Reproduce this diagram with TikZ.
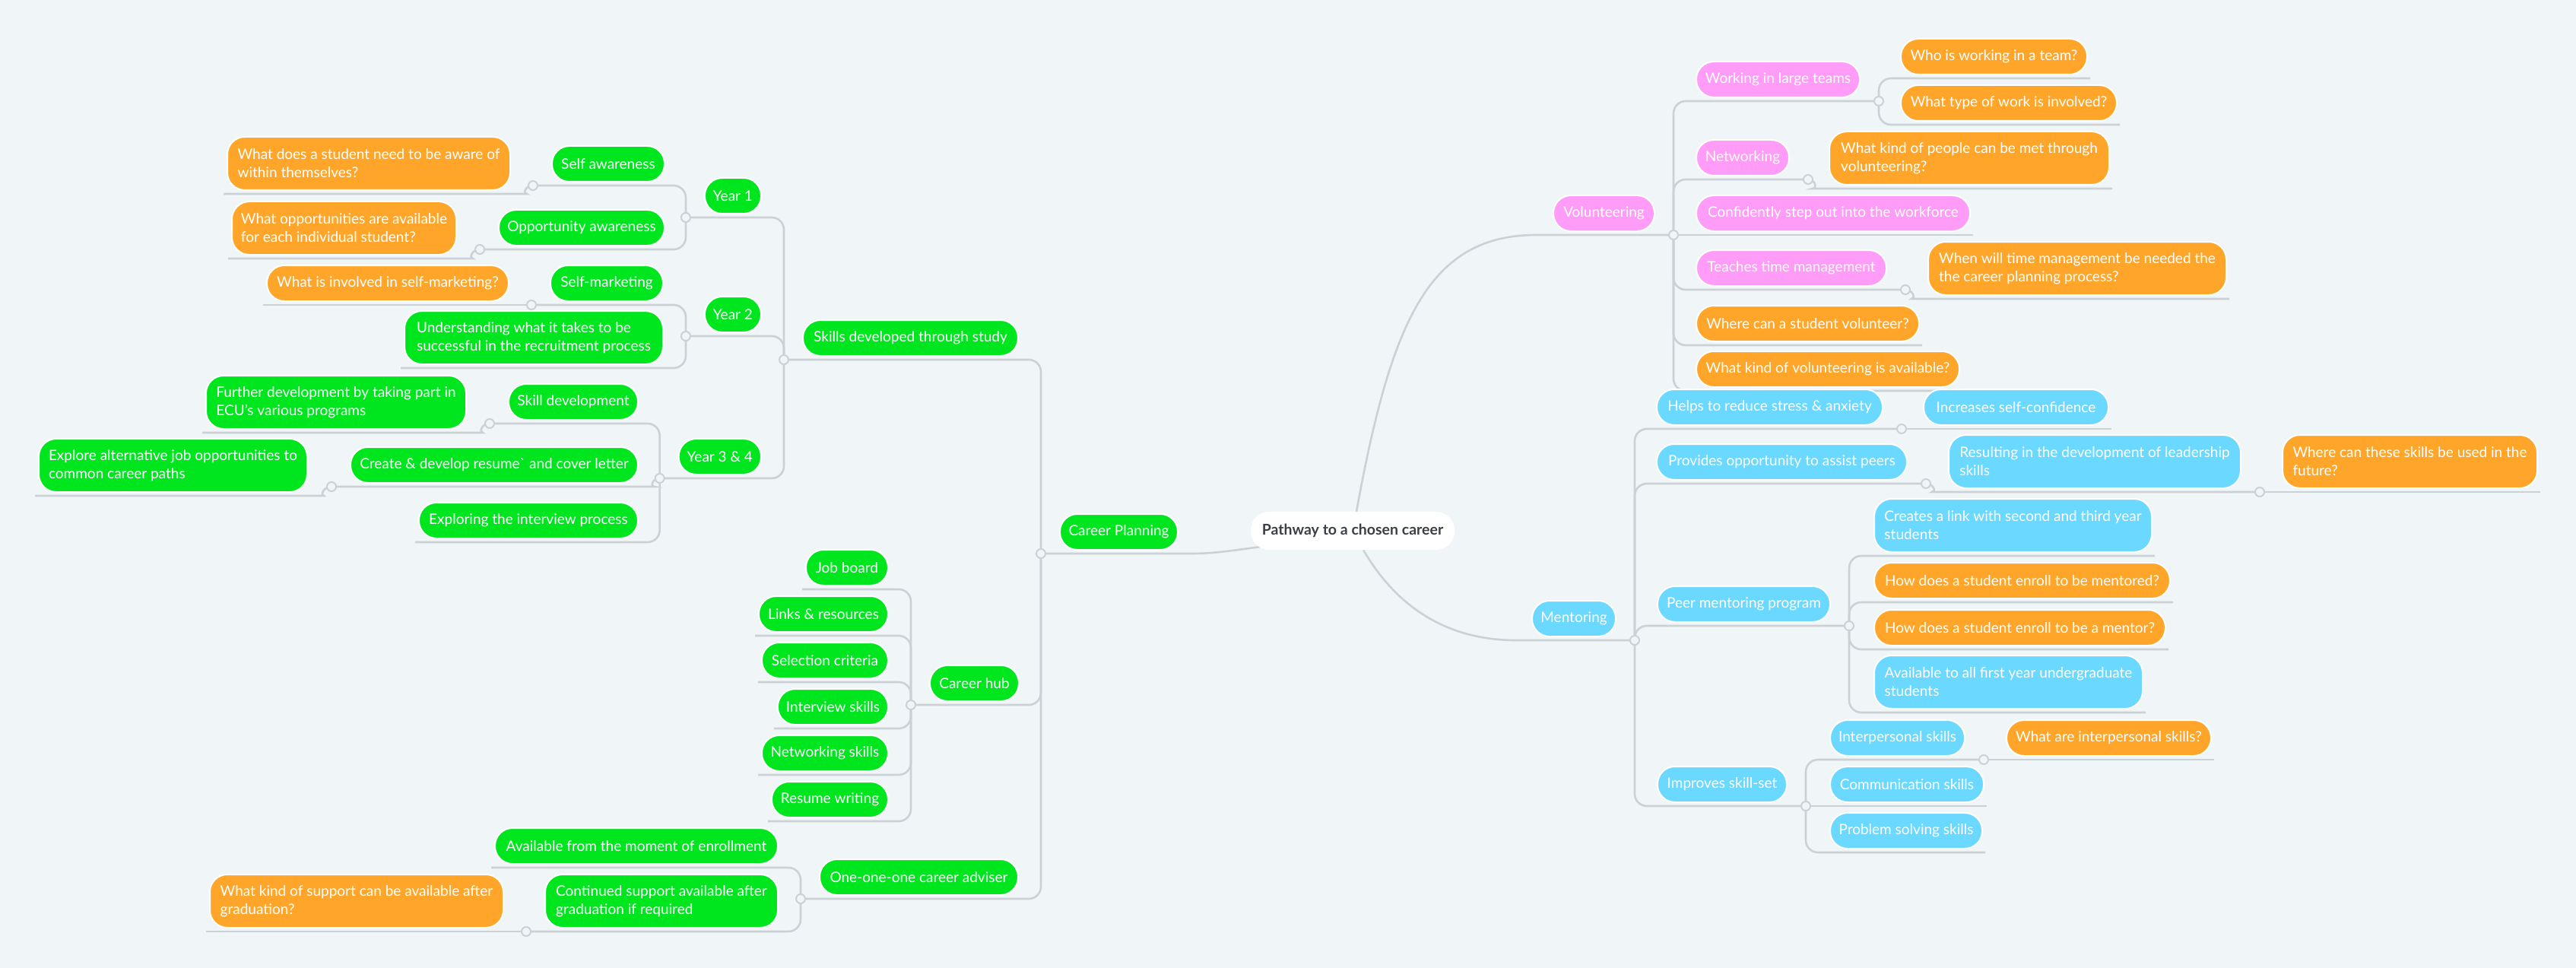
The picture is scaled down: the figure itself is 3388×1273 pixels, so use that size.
\documentclass[tikz,border=0pt]{standalone}
\usepackage{fontspec}
\setmainfont{Lato}
\usepackage{tikz}
\usetikzlibrary{calc,backgrounds}

\definecolor{mmbg}{HTML}{F0F5F8}
\definecolor{mmline}{HTML}{CCD1D5}
\definecolor{mmgreen}{HTML}{00E61E}
\definecolor{mmorange}{HTML}{FFA62A}
\definecolor{mmpink}{HTML}{FF9CF8}
\definecolor{mmblue}{HTML}{6BD8FF}
\definecolor{mmdark}{HTML}{3A3F45}

\tikzset{
  topic/.style={rounded corners=23, draw=white, line width=2, text=white, inner xsep=11, inner ysep=3,
    minimum height=47, align=left, font=\fontsize{19}{24}\selectfont},
  two/.style={minimum height=70},
  study/.style={topic, fill=mmgreen},
  query/.style={topic, fill=mmorange},
  volun/.style={topic, fill=mmpink},
  mentor/.style={topic, fill=mmblue},
  rootbox/.style={rounded corners=24, fill=white, text=mmdark, minimum width=268, minimum height=50,
    font=\fontsize{19.5}{24}\selectfont\bfseries},
  lside/.style={anchor=south east},
  rside/.style={anchor=south west},
  conn/.style={draw=mmline, line width=2.6, rounded corners=16},
  knob/.style={circle, draw=mmline, line width=2, fill=mmbg, inner sep=0, minimum size=12},
}

\begin{document}
\begin{tikzpicture}[x=1pt,y=-1pt]
% Nodes
\node[rootbox] (root) at (1779,698) {Pathway to a chosen career};
% left side
\node[study, lside, minimum width=155] (cp) at (1550,724) {Career Planning};
\node[study, lside, minimum width=283] (skills) at (1340,469) {Skills developed through study};
\node[study, lside, minimum width=117] (hub) at (1341,923) {Career hub};
\node[study, lside, minimum width=261] (adviser) at (1340,1178) {One-one-one career adviser};
\node[study, lside, minimum width=70] (y1) at (1002,282) {Year 1};
\node[study, lside, minimum width=73] (y2) at (1002,438) {Year 2};
\node[study, lside, minimum width=106] (y34) at (1002,625) {Year 3 \& 4};
\node[study, lside, minimum width=148] (selfaw) at (875,240) {Self awareness};
\node[study, lside, minimum width=218] (oppaw) at (875,324) {Opportunity awareness};
\node[query, two, lside, minimum width=372] (qselfaw) at (672,251) {What does a student need to be aware of\\within themselves?};
\node[query, two, lside, minimum width=295] (qoppaw) at (601,336) {What opportunities are available\\for each individual student?};
\node[study, lside, minimum width=148] (selfmk) at (873,397) {Self-marketing};
\node[query, lside, minimum width=318] (qselfmk) at (670,397) {What is involved in self-marketing?};
\node[study, two, lside, minimum width=340] (recruit) at (873,480) {Understanding what it takes to be\\successful in the recruitment process};
\node[study, lside, minimum width=170] (skilldev) at (840,553) {Skill development};
\node[study, two, lside, minimum width=342] (ecu) at (614,565) {Further development by taking part in\\ECU's various programs};
\node[study, lside, minimum width=378] (resume) at (840,636) {Create \& develop resume\textasciigrave{} and cover letter};
\node[study, two, lside, minimum width=353] (explore) at (405,648) {Explore alternative job opportunities to\\common career paths};
\node[study, lside, minimum width=288] (interview) at (840,709) {Exploring the interview process};
\node[study, lside, minimum width=108] (jobboard) at (1169,771) {Job board};
\node[study, lside, minimum width=170] (links) at (1169,832) {Links \& resources};
\node[study, lside, minimum width=166] (selection) at (1169,893) {Selection criteria};
\node[study, lside, minimum width=145] (intskills) at (1169,954) {Interview skills};
\node[study, lside, minimum width=166] (netskills) at (1169,1015) {Networking skills};
\node[study, lside, minimum width=153] (reswriting) at (1169,1076) {Resume writing};
\node[study, lside, minimum width=372] (enrol) at (1024,1137) {Available from the moment of enrollment};
\node[study, two, lside, minimum width=306] (continued) at (1024,1221) {Continued support available after\\graduation if required};
\node[query, two, lside, minimum width=386] (qsupport) at (663,1221) {What kind of support can be available after\\graduation?};
% right side
\node[volun, rside, minimum width=133] (vol) at (2042,305) {Volunteering};
\node[volun, rside, minimum width=215] (teams) at (2230,129) {Working in large teams};
\node[query, rside, minimum width=245] (qwho) at (2499,99) {Who is working in a team?};
\node[query, rside, minimum width=284] (qtype) at (2499,160) {What type of work is involved?};
\node[volun, rside, minimum width=122] (vnet) at (2230,232) {Networking};
\node[query, two, rside, minimum width=368] (qpeople) at (2405,244) {What kind of people can be met through\\volunteering?};
\node[volun, rside, minimum width=360] (confid) at (2230,305) {Confidently step out into the workforce};
\node[volun, rside, minimum width=250] (time) at (2230,377) {Teaches time management};
\node[query, two, rside, minimum width=392] (qtime) at (2535,389) {When will time management be needed the\\the career planning process?};
\node[query, rside, minimum width=293] (qwhere) at (2230,450) {Where can a student volunteer?};
\node[query, rside, minimum width=346] (qkind) at (2230,510) {What kind of volunteering is available?};
\node[mentor, rside, minimum width=110] (ment) at (2014,838) {Mentoring};
\node[mentor, rside, minimum width=297] (stress) at (2178,560) {Helps to reduce stress \& anxiety};
\node[mentor, rside, minimum width=243] (conf) at (2529,560) {Increases self-confidence};
\node[mentor, rside, minimum width=329] (peers) at (2178,632) {Provides opportunity to assist peers};
\node[mentor, two, rside, minimum width=384] (lead) at (2562,643) {Resulting in the development of leadership\\skills};
\node[query, two, rside, minimum width=335] (qfuture) at (3001,643) {Where can these skills be used in the\\future?};
\node[mentor, rside, minimum width=227] (peer) at (2179,819) {Peer mentoring program};
\node[mentor, two, rside, minimum width=365] (linkyr) at (2464,727) {Creates a link with second and third year\\students};
\node[query, rside, minimum width=389] (qmentored) at (2464,788) {How does a student enroll to be mentored?};
\node[query, rside, minimum width=383] (qmentor) at (2464,850) {How does a student enroll to be a mentor?};
\node[mentor, two, rside, minimum width=353] (firstyr) at (2464,933) {Available to all first year undergraduate\\students};
\node[mentor, rside, minimum width=170] (improve) at (2179,1056) {Improves skill-set};
\node[mentor, rside, minimum width=177] (inter) at (2406,995) {Interpersonal skills};
\node[query, rside, minimum width=269] (qinter) at (2638,995) {What are interpersonal skills?};
\node[mentor, rside, minimum width=202] (comm) at (2406,1056) {Communication skills};
\node[mentor, rside, minimum width=200] (problem) at (2406,1117) {Problem solving skills};
% Junctions
\foreach \n in {cp,skills,hub,adviser,y1,y2,y34,selfaw,oppaw,selfmk,skilldev,resume,continued}
  \coordinate (\n j) at ($(\n.south west)+(-24,4)$);
\foreach \n in {vol,teams,vnet,time,ment,stress,peers,lead,peer,improve,inter}
  \coordinate (\n j) at ($(\n.south east)+(24,4)$);
% Edges
\begin{scope}[on background layer]
\fill[mmbg] (0,0) rectangle (3388,1273);
\draw[conn] ($(root.south west)+(12,-4)$) .. controls +(-45,6) and +(45,0) .. ($(cp.south east)+(0,4)$) -- (cpj);
\draw[conn] ($(root.north)+(5,0)$) .. controls +(46,-253) and +(-157,0) .. ($(vol.south west)+(-5,4)$) -- (volj);
\draw[conn] ($(root.south)+(14,0)$) .. controls +(22,37) and +(-140,0) .. ($(ment.south west)+(-4,4)$) -- (mentj);
% career planning
\draw[conn] (cpj) |- (skillsj);
\draw[conn] (cpj) |- (hubj);
\draw[conn] (cpj) |- (adviserj);
\draw[conn] (skillsj) |- (y1j);
\draw[conn] (skillsj) |- (y2j);
\draw[conn] (skillsj) |- (y34j);
\draw[conn] (y1j) |- (selfawj);
\draw[conn] (y1j) |- (oppawj);
\draw[conn] (selfawj) to[out=180,in=0] ($(qselfaw.south east)+(5,4)$) -- ($(qselfaw.south west)+(-4,4)$);
\draw[conn] (oppawj) to[out=180,in=0] ($(qoppaw.south east)+(5,4)$) -- ($(qoppaw.south west)+(-4,4)$);
\draw[conn] (y2j) |- (selfmkj);
\draw[conn] (selfmkj) -- ($(qselfmk.south west)+(-4,4)$);
\draw[conn] (y2j) |- ($(recruit.south west)+(-4,4)$);
\draw[conn] (y34j) |- (skilldevj);
\draw[conn] (skilldevj) to[out=180,in=0] ($(ecu.south east)+(5,4)$) -- ($(ecu.south west)+(-4,4)$);
\draw[conn] (y34j) to[out=180,in=0] ($(resume.south east)+(5,4)$) -- (resumej);
\draw[conn] (resumej) to[out=180,in=0] ($(explore.south east)+(5,4)$) -- ($(explore.south west)+(-4,4)$);
\draw[conn] (y34j) |- ($(interview.south west)+(-4,4)$);
\draw[conn] (hubj) |- ($(jobboard.south west)+(-4,4)$);
\draw[conn] (hubj) |- ($(links.south west)+(-4,4)$);
\draw[conn] (hubj) |- ($(selection.south west)+(-4,4)$);
\draw[conn] (hubj) |- ($(intskills.south west)+(-4,4)$);
\draw[conn] (hubj) |- ($(netskills.south west)+(-4,4)$);
\draw[conn] (hubj) |- ($(reswriting.south west)+(-4,4)$);
\draw[conn] (adviserj) |- ($(enrol.south west)+(-4,4)$);
\draw[conn] (adviserj) |- (continuedj);
\draw[conn] (continuedj) -- ($(qsupport.south west)+(-4,4)$);
% volunteering
\draw[conn] (volj) |- (teamsj);
\draw[conn] (teamsj) |- ($(qwho.south east)+(3,4)$);
\draw[conn] (teamsj) |- ($(qtype.south east)+(3,4)$);
\draw[conn] (volj) |- (vnetj);
\draw[conn] (vnetj) to[out=0,in=180] ($(qpeople.south west)+(-5,4)$) -- ($(qpeople.south east)+(3,4)$);
\draw[conn] (volj) -- ($(confid.south east)+(3,4)$);
\draw[conn] (volj) |- (timej);
\draw[conn] (timej) to[out=0,in=180] ($(qtime.south west)+(-5,4)$) -- ($(qtime.south east)+(3,4)$);
\draw[conn] (volj) |- ($(qwhere.south east)+(3,4)$);
\draw[conn] (volj) |- ($(qkind.south east)+(3,4)$);
% mentoring
\draw[conn] (mentj) |- (stressj);
\draw[conn] (stressj) -- ($(conf.south east)+(3,4)$);
\draw[conn] (mentj) |- (peersj);
\draw[conn] (peersj) to[out=0,in=180] ($(lead.south west)+(-5,4)$) -- (leadj);
\draw[conn] (leadj) -- ($(qfuture.south east)+(3,4)$);
\draw[conn] (mentj) |- (peerj);
\draw[conn] (peerj) |- ($(linkyr.south east)+(3,4)$);
\draw[conn] (peerj) |- ($(qmentored.south east)+(3,4)$);
\draw[conn] (peerj) |- ($(qmentor.south east)+(3,4)$);
\draw[conn] (peerj) |- ($(firstyr.south east)+(3,4)$);
\draw[conn] (mentj) |- (improvej);
\draw[conn] (improvej) |- (interj);
\draw[conn] (interj) -- ($(qinter.south east)+(3,4)$);
\draw[conn] (improvej) -- ($(comm.south east)+(3,4)$);
\draw[conn] (improvej) |- ($(problem.south east)+(3,4)$);
\end{scope}
\foreach \n in {cp,skills,hub,adviser,y1,y2,y34,selfaw,oppaw,selfmk,skilldev,resume,continued,vol,teams,vnet,time,ment,stress,peers,lead,peer,improve,inter}
  \node[knob] at (\n j) {};
\end{tikzpicture}
\end{document}
